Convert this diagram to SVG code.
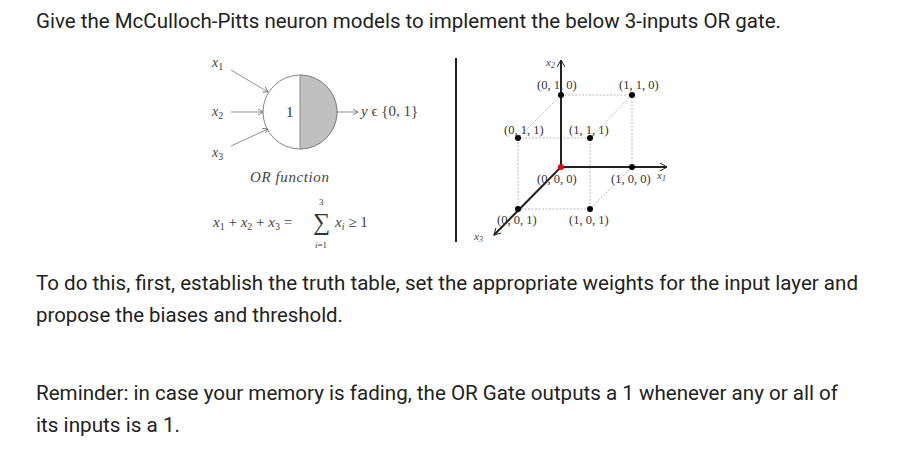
<svg xmlns="http://www.w3.org/2000/svg" width="915" height="467" viewBox="0 0 915 467">
<style>
.t{font-family:Roboto,"Liberation Sans",sans-serif;font-size:20px;fill:#222}
.m{font-family:"Liberation Serif",serif;font-size:14px;fill:#333}
.mi{font-family:"Liberation Serif",serif;font-size:14px;fill:#444;font-style:italic}
.d{stroke:#aaa;stroke-width:0.8;stroke-dasharray:2,1.5;fill:none}
.ax{stroke:#222;stroke-width:2;fill:none}
</style>
<defs><marker id="a" markerWidth="8" markerHeight="8" refX="7" refY="4" orient="auto" markerUnits="userSpaceOnUse"><path d="M0,0 L7,4 L0,8" fill="none" stroke="#222" stroke-width="1"/></marker>
<marker id="s" markerWidth="6" markerHeight="6" refX="5" refY="3" orient="auto" markerUnits="userSpaceOnUse"><path d="M0,0 L5,3 L0,6" fill="none" stroke="#666" stroke-width="0.8"/></marker></defs>
<rect width="915" height="467" fill="#fff"/>
<text class="t" x="36" y="28" textLength="745" lengthAdjust="spacingAndGlyphs">Give the McCulloch-Pitts neuron models to implement the below 3-inputs OR gate.</text>
<g id="neuron">
<circle cx="300" cy="112" r="37" fill="#fff" stroke="#888"/>
<path d="M300,75 A37,37 0 0 1 300,149 Z" fill="#c0c0c0" stroke="#888"/>
<text class="m" x="286" y="117" style="font-size:15px">1</text>
</g>
<g id="connectors" stroke="#777" stroke-width="0.8">
<line x1="231" y1="70" x2="268" y2="92" marker-end="url(#s)"/>
<line x1="231" y1="112" x2="263" y2="112" marker-end="url(#s)"/>
<line x1="231" y1="146" x2="268" y2="129" marker-end="url(#s)"/>
<line x1="337" y1="112" x2="358" y2="112" marker-end="url(#s)"/>
</g>
<text class="mi" x="212" y="67">x<tspan font-size="10" dy="3" font-style="normal">1</tspan></text>
<text class="mi" x="212" y="116">x<tspan font-size="10" dy="3" font-style="normal">2</tspan></text>
<text class="mi" x="212" y="157">x<tspan font-size="10" dy="3" font-style="normal">3</tspan></text>
<text class="mi" x="361" y="116" style="font-size:15px">y <tspan font-style="normal">ϵ {0, 1}</tspan></text>
<text class="mi" x="250" y="182" style="font-size:15px;letter-spacing:0.6px">OR function</text>
<text class="mi" x="213" y="227" style="font-size:15px">x<tspan font-size="10" dy="3" font-style="normal">1</tspan><tspan dy="-3" font-style="normal"> + </tspan>x<tspan font-size="10" dy="3" font-style="normal">2</tspan><tspan dy="-3" font-style="normal"> + </tspan>x<tspan font-size="10" dy="3" font-style="normal">3</tspan><tspan dy="-3" font-style="normal"> = </tspan></text>
<text class="m" x="313" y="230" style="font-size:24px">∑</text>
<text class="m" x="319" y="205" style="font-size:9px">3</text>
<text class="mi" x="315" y="248" style="font-size:9px">i<tspan font-style="normal">=1</tspan></text>
<text class="mi" x="335" y="227" style="font-size:15px">x<tspan font-size="10" dy="3">i</tspan><tspan dy="-3" font-style="normal"> ≥ 1</tspan></text>
<line x1="456" y1="58" x2="456" y2="242" stroke="#222" stroke-width="2"/>
<g id="cube">
<path class="d" d="M561,95 H632 V167 M518,138 H590 V209 H518 V138 M561,95 L518,138 M632,95 L590,138 M632,167 L590,209"/>
<line class="ax" x1="561" y1="167" x2="561" y2="60" marker-end="url(#a)"/>
<line class="ax" x1="561" y1="167" x2="667" y2="167" marker-end="url(#a)"/>
<line class="ax" x1="561" y1="167" x2="494" y2="235" marker-end="url(#a)"/>
<g fill="#000"><circle cx="561" cy="95" r="3"/><circle cx="632" cy="95" r="3"/><circle cx="518" cy="138" r="3"/><circle cx="590" cy="138" r="3"/><circle cx="632" cy="167" r="3"/><circle cx="518" cy="209" r="3"/><circle cx="590" cy="209" r="3"/></g>
<circle cx="561" cy="167" r="3" fill="#e00"/>
<g class="m" style="font-size:12.5px">
<text x="537" y="89">(0, 1, 0)</text><text x="619" y="89">(1, 1, 0)</text>
<text x="504" y="134">(0, 1, 1)</text><text x="569" y="134">(1, 1, 1)</text>
<text x="537" y="183">(0, 0, 0)</text><text x="611" y="183">(1, 0, 0)</text>
<text x="497" y="224">(0, 0, 1)</text><text x="569" y="224">(1, 0, 1)</text>
</g>
<text class="mi" x="546" y="66" style="font-size:11px">x<tspan font-size="8" dy="2">2</tspan></text>
<text class="mi" x="657" y="179" style="font-size:11px">x<tspan font-size="8" dy="2">1</tspan></text>
<text class="mi" x="474" y="240" style="font-size:11px">x<tspan font-size="8" dy="2">3</tspan></text>
</g>
<text class="t" x="36" y="290" textLength="822" lengthAdjust="spacingAndGlyphs">To do this, first, establish the truth table, set the appropriate weights for the input layer and</text>
<text class="t" x="36" y="322" textLength="307" lengthAdjust="spacingAndGlyphs">propose the biases and threshold.</text>
<text class="t" x="36" y="400" textLength="802" lengthAdjust="spacingAndGlyphs">Reminder: in case your memory is fading, the OR Gate outputs a 1 whenever any or all of</text>
<text class="t" x="36" y="432" textLength="144" lengthAdjust="spacingAndGlyphs">its inputs is a 1.</text>
</svg>
